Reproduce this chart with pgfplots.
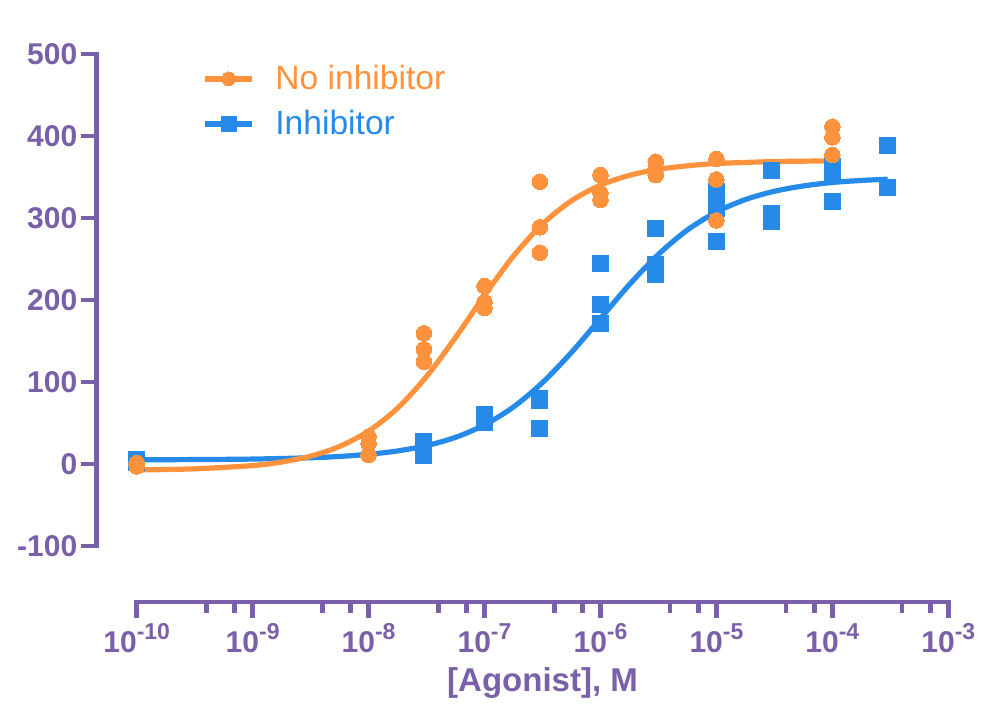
\documentclass[border=0pt]{standalone}
\usepackage{pgfplots}
\pgfplotsset{compat=1.18}
\usepackage{fontspec}
\setmainfont{Liberation Sans}
\definecolor{axp}{RGB}{121,96,168}
\definecolor{orc}{RGB}{255,146,60}
\definecolor{blc}{RGB}{38,139,232}
\newcommand{\tl}[1]{10\raisebox{0.45em}{\fontsize{11.5}{11.5}\selectfont #1}}
\begin{document}
\begin{tikzpicture}
\begin{axis}[
  scale only axis, width=425.8pt, height=274pt,
  xmin=-10.345, xmax=-3, ymin=-168.3, ymax=500,
  clip=false,
  axis line style={draw=none},
  tick pos=left,
  tick align=outside,
  major tick length=8pt, minor tick length=5.5pt,
  tick style={axp, line width=2.2pt},
  xtick={-10,-9,-8,-7,-6,-5,-4,-3},
  xticklabels={\tl{-10},\tl{-9},\tl{-8},\tl{-7},\tl{-6},\tl{-5},\tl{-4},\tl{-3}},
  minor xtick={-9.398,-9.155,-8.398,-8.155,-7.398,-7.155,-6.398,-6.155,-5.398,-5.155,-4.398,-4.155,-3.398,-3.155},
  ytick={-100,0,100,200,300,400,500},
  yticklabels={-100,0,100,200,300,400,500},
  xticklabel style={font=\bfseries\fontsize{15}{15}\selectfont, text=axp, inner sep=0pt, yshift=-2.5pt},
  yticklabel style={font=\bfseries\fontsize{15}{15}\selectfont, text=axp, inner sep=0pt, xshift=-1.5pt},
  xlabel={{[Agonist], M}},
  xlabel style={at={(axis cs:-6.5,-168.3)}, anchor=center, yshift=-40.5pt, font=\bfseries\fontsize{16.5}{16.5}\selectfont, text=axp},
  legend style={at={(axis cs:-9.437,442.1)}, anchor=west, draw=none, fill=none, inner sep=0pt, outer sep=0pt,
    row sep=9pt, column sep=10pt, font=\fontsize{16.8}{16.8}\selectfont, nodes={inner sep=0pt}},
  legend cell align=left,
  legend image code/.code={\draw[mark repeat=2,mark phase=2,#1] plot coordinates {(0pt,0pt) (11.75pt,0pt) (23.5pt,0pt)};},
]
\addlegendimage{orc, line width=3.2pt, mark=*, mark size=3.4pt, mark options={fill=orc, draw=orc, line width=0pt}}
\addlegendentry{\textcolor{orc}{No inhibitor}}
\addlegendimage{blc, line width=3.2pt, mark=square*, mark size=3.7pt, mark options={fill=blc, draw=blc, line width=0pt}}
\addlegendentry{\textcolor{blc}{Inhibitor}}

% fitted curves
\addplot[blc, line width=2.6pt, smooth, forget plot] coordinates {
(-10,5.1) (-9.5,5.4) (-9,6.0) (-8.5,7.6) (-8.25,9.2) (-8,11.8) (-7.75,15.9) (-7.5,22.4) (-7.25,32.5)
(-7,47.7) (-6.75,69.6) (-6.5,99.3) (-6.25,136.1) (-6,177.5) (-5.75,218.9) (-5.5,255.7) (-5.25,285.4)
(-5,307.3) (-4.75,322.5) (-4.5,332.6) (-4.25,339.1) (-4,343.3) (-3.75,345.8) (-3.523,347.3)};
\addplot[orc, line width=2.6pt, smooth, forget plot] coordinates {
(-10,-7.3) (-9.5,-5.9) (-9,-1.9) (-8.75,2.4) (-8.5,9.6) (-8.25,21.4) (-8,40.1) (-7.75,68.1) (-7.5,106.7)
(-7.25,154.3) (-7,205.7) (-6.75,253.6) (-6.5,292.6) (-6.25,321.0) (-6,340.0) (-5.75,352.0) (-5.5,359.4)
(-5.25,363.6) (-5,366.4) (-4.5,368.8) (-4,369.6)};

% Inhibitor data
\addplot[only marks, mark=square*, mark size=4pt, mark options={fill=blc, draw=blc, line width=0pt}, forget plot] coordinates {
(-10,4) (-10,2) (-10,5)
(-7.523,27.7) (-7.523,18.3) (-7.523,10.6)
(-7,60) (-7,55) (-7,50)
(-6.523,78) (-6.523,43.5) (-6.523,80)
(-6,244.8) (-6,193.9) (-6,171.6)
(-5.523,287.4) (-5.523,242.7) (-5.523,230.5)
(-5,332.1) (-5,311.8) (-5,271.1)
(-4.523,358.5) (-4.523,305.7) (-4.523,295.5)
(-4,362.6) (-4,352.4) (-4,319.9)
(-3.523,388.2) (-3.523,337.4)};

% No inhibitor data
\addplot[only marks, mark=*, mark size=3.9pt, mark options={fill=orc, draw=orc, line width=0pt}, forget plot] coordinates {
(-10,-3) (-10,0) (-10,1)
(-8,33.3) (-8,25.2) (-8,11.0)
(-7.523,159.4) (-7.523,139.9) (-7.523,124.8)
(-7,217) (-7,197.6) (-7,190.2)
(-6.523,344.3) (-6.523,288.7) (-6.523,257.7)
(-6,352.4) (-6,330.1) (-6,322)
(-5.523,368.7) (-5.523,360.6) (-5.523,352.4)
(-5,372) (-5,347) (-5,297)
(-4,411.3) (-4,398.4) (-4,376.8)};

% offset axis lines
\draw[axp, line width=2.2pt, line cap=rect] (axis cs:-10,-168.3) -- (axis cs:-3,-168.3);
\draw[axp, line width=2.2pt, line cap=rect] (axis cs:-10.345,-100) -- (axis cs:-10.345,500);

\coordinate (bl) at (axis cs:-11.179,-297.6);
\coordinate (tr) at (axis cs:-2.5455,565.85);
\end{axis}
\pgfresetboundingbox
\useasboundingbox (bl) rectangle (tr);
\end{tikzpicture}
\end{document}
